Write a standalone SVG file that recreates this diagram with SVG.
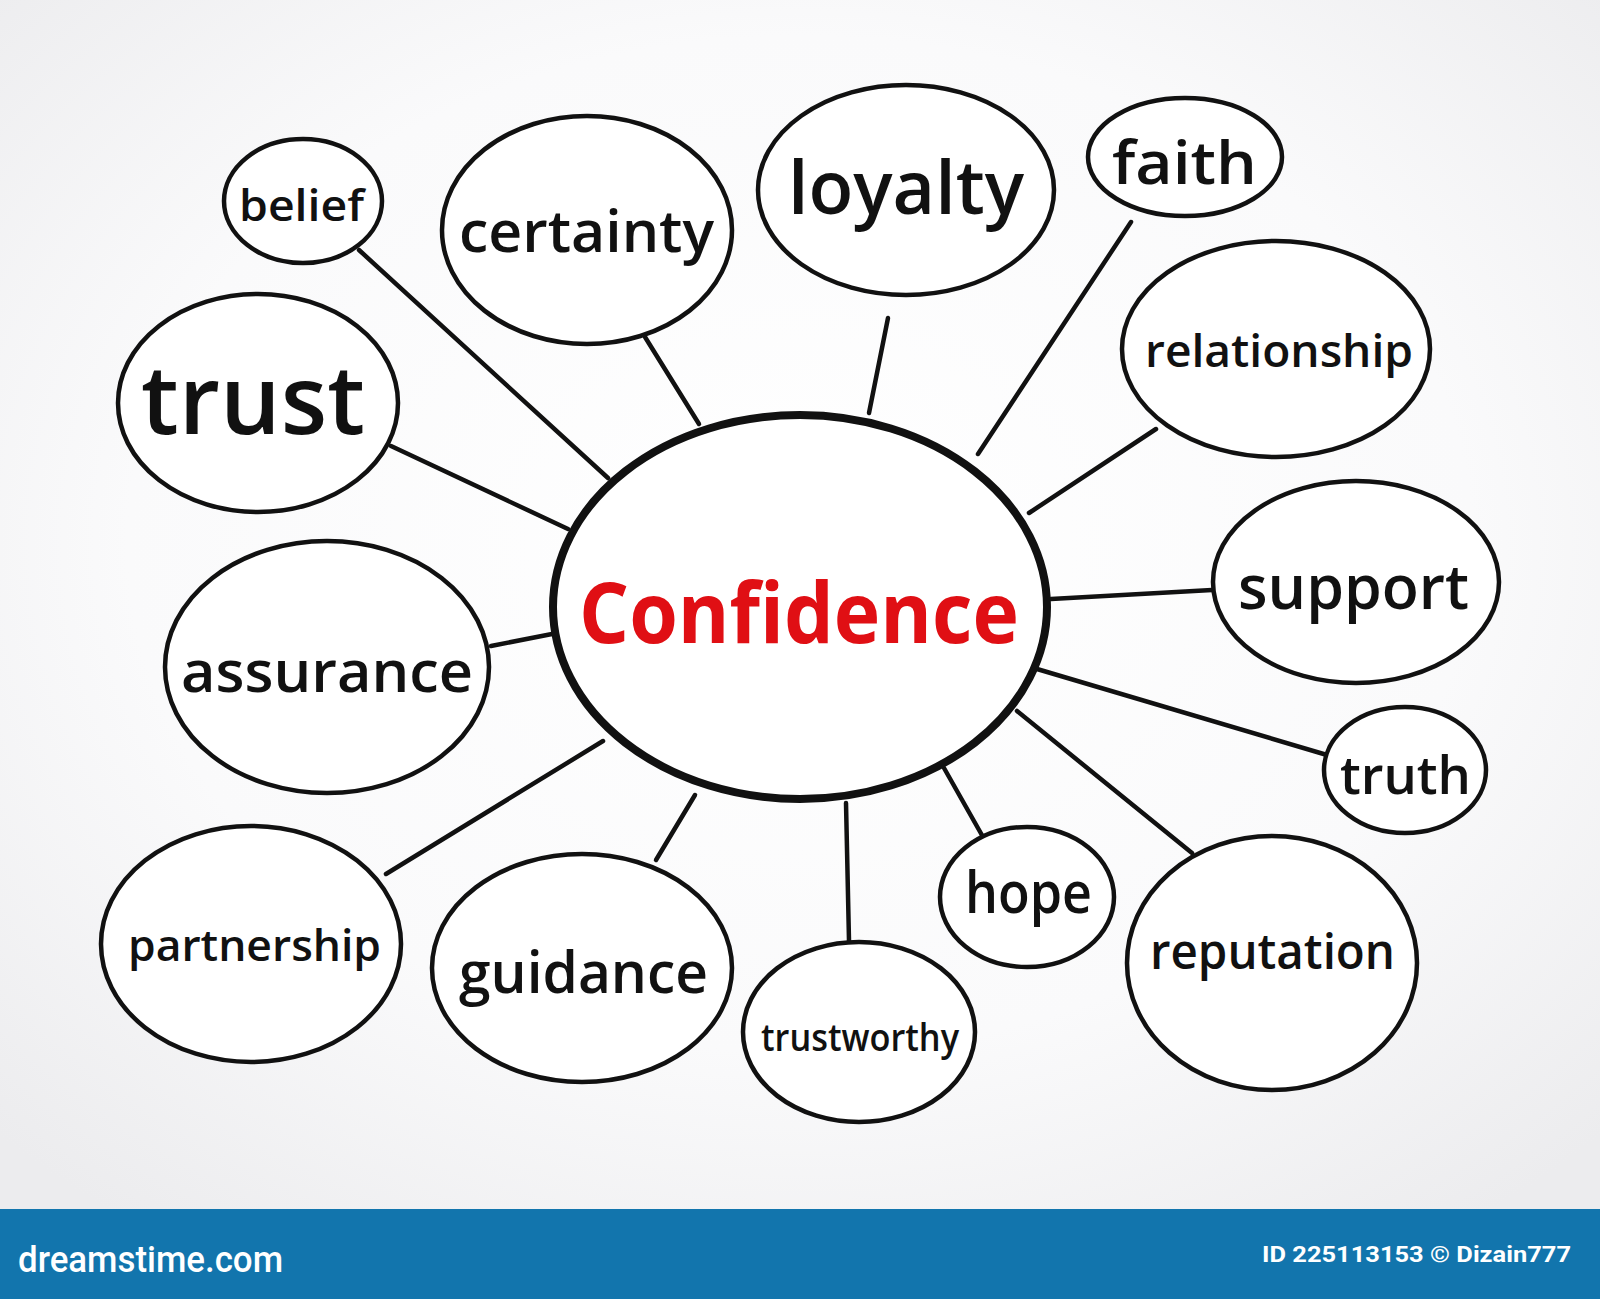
<svg xmlns="http://www.w3.org/2000/svg" width="1600" height="1299" viewBox="0 0 1600 1299">
<defs>
<radialGradient id="bg" cx="50%" cy="45%" r="70%">
<stop offset="0" stop-color="#ffffff"/>
<stop offset="0.6" stop-color="#fafafb"/>
<stop offset="1" stop-color="#ececee"/>
</radialGradient>
<style>
.n{fill:#ffffff;stroke:#111;stroke-width:4.5}
.c{fill:#ffffff;stroke:#111;stroke-width:8}
.t{font-family:"Open Sans","Liberation Sans",sans-serif;font-weight:600;fill:#111;text-anchor:start}
.ct{font-family:"Open Sans","Liberation Sans",sans-serif;font-weight:700;fill:#e00f14}
#connectors line{stroke:#111;stroke-width:4.5;stroke-linecap:round}
.w{font-family:"Roboto","Liberation Sans",sans-serif;fill:#fff}
</style>
</defs>
<rect x="0" y="0" width="1600" height="1209" fill="url(#bg)"/>
<g id="connectors">
<line x1="359" y1="250" x2="608" y2="478"/>
<line x1="645" y1="337" x2="699" y2="424"/>
<line x1="888" y1="318" x2="869" y2="413"/>
<line x1="1131" y1="222" x2="978" y2="454"/>
<line x1="391" y1="446" x2="568" y2="529"/>
<line x1="1156" y1="429" x2="1029" y2="513"/>
<line x1="1212" y1="590" x2="1051" y2="599"/>
<line x1="491" y1="646" x2="552" y2="634"/>
<line x1="1327" y1="755" x2="1037" y2="669"/>
<line x1="386" y1="874" x2="603" y2="741"/>
<line x1="656" y1="860" x2="695" y2="795"/>
<line x1="849" y1="941" x2="846" y2="803"/>
<line x1="983" y1="837" x2="944" y2="768"/>
<line x1="1192" y1="853" x2="1017" y2="711"/>
</g>
<g id="confidence"><ellipse class="c" cx="800" cy="607" rx="247" ry="192"/><text class="ct" x="579" y="643" font-size="84" textLength="440" lengthAdjust="spacingAndGlyphs">Confidence</text></g>
<g id="belief"><ellipse class="n" cx="303" cy="201" rx="79" ry="62"/><text class="t" x="239" y="221" font-size="44" textLength="125" lengthAdjust="spacingAndGlyphs">belief</text></g>
<g id="certainty"><ellipse class="n" cx="587" cy="230" rx="145" ry="114"/><text class="t" x="459" y="252" font-size="58" textLength="255" lengthAdjust="spacingAndGlyphs">certainty</text></g>
<g id="loyalty"><ellipse class="n" cx="906" cy="190" rx="148" ry="105"/><text class="t" x="788" y="214" font-size="74" font-weight="700" textLength="236" lengthAdjust="spacingAndGlyphs">loyalty</text></g>
<g id="faith"><ellipse class="n" cx="1185" cy="157" rx="97" ry="59"/><text class="t" x="1112" y="184" font-size="60" textLength="145" lengthAdjust="spacingAndGlyphs">faith</text></g>
<g id="trust"><ellipse class="n" cx="258" cy="403" rx="140" ry="109"/><text class="t" x="141" y="434" font-size="96" font-weight="700" textLength="224" lengthAdjust="spacingAndGlyphs">trust</text></g>
<g id="relationship"><ellipse class="n" cx="1276" cy="349" rx="154" ry="108"/><text class="t" x="1145" y="367" font-size="46" textLength="268" lengthAdjust="spacingAndGlyphs">relationship</text></g>
<g id="support"><ellipse class="n" cx="1356" cy="582" rx="143" ry="101"/><text class="t" x="1238" y="609" font-size="62" textLength="231" lengthAdjust="spacingAndGlyphs">support</text></g>
<g id="assurance"><ellipse class="n" cx="327" cy="667" rx="162" ry="126"/><text class="t" x="181" y="692" font-size="58" textLength="292" lengthAdjust="spacingAndGlyphs">assurance</text></g>
<g id="truth"><ellipse class="n" cx="1405" cy="770" rx="81" ry="63"/><text class="t" x="1340" y="794" font-size="52" textLength="131" lengthAdjust="spacingAndGlyphs">truth</text></g>
<g id="partnership"><ellipse class="n" cx="251" cy="944" rx="150" ry="118"/><text class="t" x="128" y="961" font-size="44" textLength="253" lengthAdjust="spacingAndGlyphs">partnership</text></g>
<g id="guidance"><ellipse class="n" cx="582" cy="968" rx="150" ry="114"/><text class="t" x="459" y="993" font-size="58" textLength="249" lengthAdjust="spacingAndGlyphs">guidance</text></g>
<g id="trustworthy"><ellipse class="n" cx="859" cy="1032" rx="116" ry="90"/><text class="t" x="761" y="1051" font-size="38" textLength="198" lengthAdjust="spacingAndGlyphs">trustworthy</text></g>
<g id="hope"><ellipse class="n" cx="1027" cy="897" rx="87" ry="70"/><text class="t" x="965" y="913" font-size="58" textLength="127" lengthAdjust="spacingAndGlyphs">hope</text></g>
<g id="reputation"><ellipse class="n" cx="1272" cy="963" rx="145" ry="127"/><text class="t" x="1150" y="969" font-size="48" textLength="245" lengthAdjust="spacingAndGlyphs">reputation</text></g>
<rect x="0" y="1209" width="1600" height="90" fill="#1275ad"/>
<text class="w" x="18" y="1272" font-size="36" font-weight="500" textLength="265" lengthAdjust="spacingAndGlyphs">dreamstime.com</text>
<text class="w" x="1262" y="1262" font-size="22" font-weight="700" textLength="309" lengthAdjust="spacingAndGlyphs">ID 225113153 © Dizain777</text>
</svg>
